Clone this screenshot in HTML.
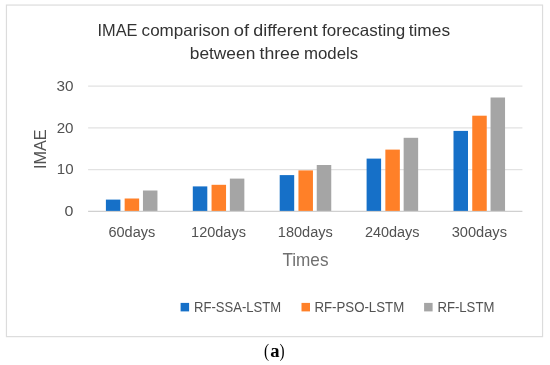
<!DOCTYPE html>
<html><head><meta charset="utf-8"><title>IMAE comparison of different forecasting times between three models</title>
<style>
html,body{margin:0;padding:0;background:#fff;}
svg{display:block;}
text{font-family:"Liberation Sans",sans-serif;}
.cap{font-family:"Liberation Serif",serif;fill:#000;font-size:18px;}
</style></head><body>
<svg width="550" height="365" viewBox="0 0 550 365">
<rect width="550" height="365" fill="#fff"/>
<rect x="6.45" y="5.05" width="536.1" height="331.6" fill="#fff" stroke="#DCDCDC" stroke-width="1.2"/>
<line x1="88.1" x2="522.4" y1="169.67" y2="169.67" stroke="#E2E2E2" stroke-width="1.3"/>
<line x1="88.1" x2="522.4" y1="127.93" y2="127.93" stroke="#E2E2E2" stroke-width="1.3"/>
<line x1="88.1" x2="522.4" y1="86.2" y2="86.2" stroke="#E2E2E2" stroke-width="1.3"/>
<line x1="88.1" x2="522.4" y1="211.4" y2="211.4" stroke="#D0D0D0" stroke-width="1.1"/>
<rect x="105.90" y="199.60" width="14.5" height="11.30" fill="#1670C8"/>
<rect x="124.65" y="198.50" width="14.5" height="12.40" fill="#FF8028"/>
<rect x="142.95" y="190.50" width="14.5" height="20.40" fill="#A5A5A5"/>
<rect x="192.80" y="186.40" width="14.5" height="24.50" fill="#1670C8"/>
<rect x="211.55" y="184.80" width="14.5" height="26.10" fill="#FF8028"/>
<rect x="229.85" y="178.60" width="14.5" height="32.30" fill="#A5A5A5"/>
<rect x="279.70" y="175.10" width="14.5" height="35.80" fill="#1670C8"/>
<rect x="298.45" y="170.40" width="14.5" height="40.50" fill="#FF8028"/>
<rect x="316.75" y="165.00" width="14.5" height="45.90" fill="#A5A5A5"/>
<rect x="366.60" y="158.60" width="14.5" height="52.30" fill="#1670C8"/>
<rect x="385.35" y="149.60" width="14.5" height="61.30" fill="#FF8028"/>
<rect x="403.65" y="137.80" width="14.5" height="73.10" fill="#A5A5A5"/>
<rect x="453.50" y="130.90" width="14.5" height="80.00" fill="#1670C8"/>
<rect x="472.25" y="115.70" width="14.5" height="95.20" fill="#FF8028"/>
<rect x="490.55" y="97.50" width="14.5" height="113.40" fill="#A5A5A5"/>
<text fill="#333333" x="97.49" y="36.15" font-size="16.5" textLength="40.02" lengthAdjust="spacingAndGlyphs">IMAE</text>
<text fill="#333333" x="141.63" y="36.15" font-size="16.5" textLength="88.06" lengthAdjust="spacingAndGlyphs">comparison</text>
<text fill="#333333" x="233.78" y="36.15" font-size="16.5" textLength="15.29" lengthAdjust="spacingAndGlyphs">of</text>
<text fill="#333333" x="253.28" y="36.15" font-size="16.5" textLength="64.41" lengthAdjust="spacingAndGlyphs">different</text>
<text fill="#333333" x="322.02" y="36.15" font-size="16.5" textLength="83.26" lengthAdjust="spacingAndGlyphs">forecasting</text>
<text fill="#333333" x="408.71" y="36.15" font-size="16.5" textLength="41.34" lengthAdjust="spacingAndGlyphs">times</text>
<text fill="#333333" x="189.77" y="58.65" font-size="16.5" textLength="65.51" lengthAdjust="spacingAndGlyphs">between</text>
<text fill="#333333" x="259.48" y="58.65" font-size="16.5" textLength="40.26" lengthAdjust="spacingAndGlyphs">three</text>
<text fill="#333333" x="303.95" y="58.65" font-size="16.5" textLength="54.25" lengthAdjust="spacingAndGlyphs">models</text>
<text fill="#525252" x="56.53" y="90.75" font-size="15.3" textLength="16.98" lengthAdjust="spacingAndGlyphs">30</text>
<text fill="#525252" x="56.64" y="132.5" font-size="15.3" textLength="16.86" lengthAdjust="spacingAndGlyphs">20</text>
<text fill="#525252" x="56.77" y="174.4" font-size="15.3" textLength="16.73" lengthAdjust="spacingAndGlyphs">10</text>
<text fill="#525252" x="64.61" y="215.95" font-size="15.3" textLength="8.91" lengthAdjust="spacingAndGlyphs">0</text>
<text fill="#525252" x="108.47" y="237.3" font-size="15.3" textLength="46.83" lengthAdjust="spacingAndGlyphs">60days</text>
<text fill="#525252" x="191.11" y="237.3" font-size="15.3" textLength="54.81" lengthAdjust="spacingAndGlyphs">120days</text>
<text fill="#525252" x="277.81" y="237.3" font-size="15.3" textLength="55.01" lengthAdjust="spacingAndGlyphs">180days</text>
<text fill="#525252" x="364.88" y="237.3" font-size="15.3" textLength="54.64" lengthAdjust="spacingAndGlyphs">240days</text>
<text fill="#525252" x="451.65" y="237.3" font-size="15.3" textLength="55.37" lengthAdjust="spacingAndGlyphs">300days</text>
<text fill="#707070" font-size="17.9" x="282.41" y="265.5" textLength="46.09" lengthAdjust="spacingAndGlyphs">Times</text>
<text fill="#525252" font-size="16.7" transform="translate(45.9,167.8) rotate(-90)" x="-1.31" y="0" textLength="39.79" lengthAdjust="spacingAndGlyphs">IMAE</text>
<rect x="180.6" y="302.9" width="8.5" height="8.5" fill="#1670C8"/>
<text fill="#525252" x="194.12" y="311.5" font-size="15.3" textLength="87.05" lengthAdjust="spacingAndGlyphs">RF-SSA-LSTM</text>
<rect x="301.5" y="302.9" width="8.5" height="8.5" fill="#FF8028"/>
<text fill="#525252" x="314.41" y="311.5" font-size="15.3" textLength="89.79" lengthAdjust="spacingAndGlyphs">RF-PSO-LSTM</text>
<rect x="424.1" y="302.9" width="8.5" height="8.5" fill="#A5A5A5"/>
<text fill="#525252" x="437.42" y="311.5" font-size="15.3" textLength="56.98" lengthAdjust="spacingAndGlyphs">RF-LSTM</text>
<text class="cap" x="264.1" y="356.6" textLength="5.1" lengthAdjust="spacingAndGlyphs">(</text>
<text class="cap" x="270.25" y="356.5" font-weight="bold" style="font-size:18.6px">a</text>
<text class="cap" x="279.5" y="356.6" textLength="5.1" lengthAdjust="spacingAndGlyphs">)</text>
</svg>
</body></html>
